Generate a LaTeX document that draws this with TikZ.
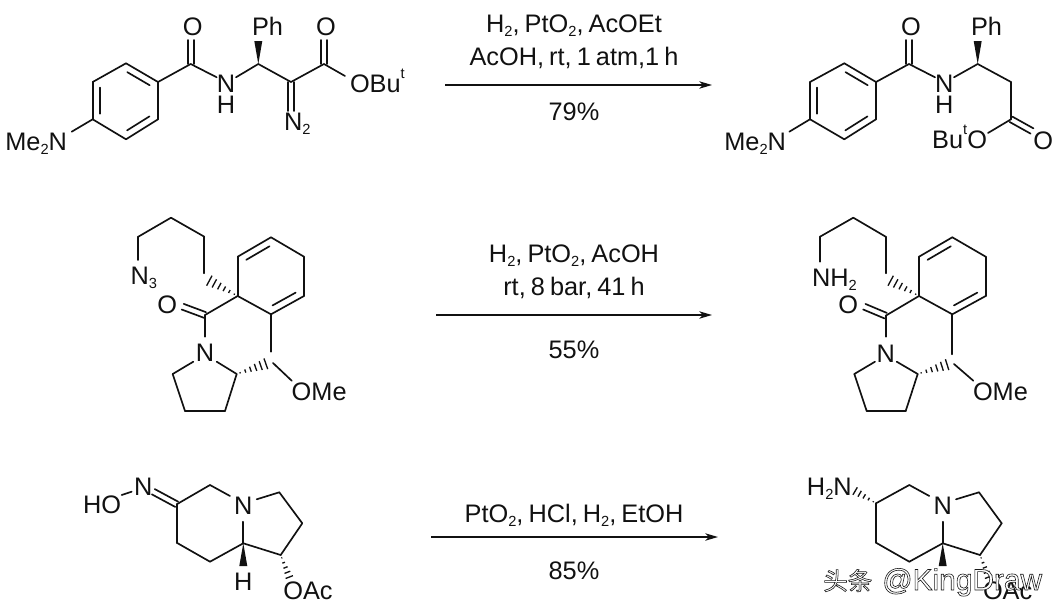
\documentclass[tikz,border=0pt]{standalone}
\usepackage{fontspec}
\setmainfont[WordSpace=0.72]{Liberation Sans}
\newfontfamily\cjk{Noto Sans CJK SC}
\newfontfamily\wmfont{Liberation Sans}
\usetikzlibrary{calc,arrows.meta}
\definecolor{ink}{HTML}{111111}
\newcommand{\lsub}[1]{\raisebox{-3.2pt}{\fontsize{11pt}{11pt}\selectfont #1}}
\newcommand{\lsup}[1]{\raisebox{10.5pt}{\fontsize{11pt}{11pt}\selectfont #1}}
\newcommand{\pnt}[3]{\coordinate (#1) at (#2,#3);}
\newcommand{\bnd}[2]{\draw[bondline] (#1) -- (#2);}
\newcommand{\ib}[2]{\draw[bondline] ($(#1)!.15!(#2)!5.25pt!90:(#2)$) -- ($(#2)!.15!(#1)!5.25pt!-90:(#1)$);}
\newcommand{\db}[2]{\draw[bondline] ($(#1)!2.25pt!90:(#2)$) -- ($(#2)!2.25pt!-90:(#1)$);
  \draw[bondline] ($(#1)!2.25pt!-90:(#2)$) -- ($(#2)!2.25pt!90:(#1)$);}
\newcommand{\wb}[3]{\fill[ink] (#1) -- ($(#2)!#3!90:(#1)$) -- ($(#2)!#3!-90:(#1)$) -- cycle;}
\newcommand{\hb}[4]{\foreach \t in {#4}{%
  \pgfmathsetlengthmacro{\hw}{\t*#3}%
  \draw[hashline] ($(#1)!\t!(#2)!\hw!90:(#2)$) -- ($(#1)!\t!(#2)!\hw!-90:(#2)$);}}
\tikzset{
  bondline/.style={draw=ink,line width=1.25pt,line cap=round,line join=round},
  hashline/.style={draw=ink,line width=1pt},
  lab/.style={inner sep=0pt,outer sep=0pt,text=ink,font=\fontsize{19pt}{20pt}\selectfont},
  rxnarrow/.style={draw=ink,line width=1.1pt,-{Stealth[length=9.5pt,width=5.5pt,inset=2.5pt]}},
}
\begin{document}
\begin{tikzpicture}[x=0.75pt,y=-0.75pt]
\useasboundingbox (0,0) rectangle (1060,614);
% ---------- molecule 1
\pnt{a1}{126}{63.3}\pnt{a2}{158}{82}\pnt{a3}{158}{119.3}\pnt{a4}{126}{139.3}\pnt{a5}{92.7}{119.3}\pnt{a6}{92.7}{82}
\pnt{a7}{71.7}{131.7}\pnt{a8}{190.7}{64}\pnt{a9}{190.7}{40}\pnt{a10}{216.7}{77.3}\pnt{a11}{236}{77.3}
\pnt{a12}{258.3}{64}\pnt{a13}{258.3}{41}\pnt{a14}{291}{82}\pnt{a15}{291}{111}\pnt{a16}{324}{64}\pnt{a17}{324}{40}\pnt{a18}{345}{76}
\bnd{a1}{a2}\bnd{a2}{a3}\bnd{a3}{a4}\bnd{a4}{a5}\bnd{a5}{a6}\bnd{a6}{a1}
\ib{a2}{a1}\ib{a6}{a5}\ib{a4}{a3}
\bnd{a5}{a7}\bnd{a2}{a8}\db{a8}{a9}\bnd{a8}{a10}\bnd{a11}{a12}\bnd{a12}{a14}\bnd{a14}{a16}
\db{a14}{a15}\db{a16}{a17}\bnd{a16}{a18}\wb{a12}{a13}{3pt}
\node[lab,anchor=base east] (an1) at (67,150) {Me\lsub{2}N};
\node[lab,anchor=base] (an2) at (192.7,35) {O};
\node[lab,anchor=base] (an3) at (226,92.5) {N};
\node[lab,anchor=base] (an4) at (226,113.5) {H};
\node[lab,anchor=base west] (an5) at (252,35) {Ph};
\node[lab,anchor=base] (an6) at (326,35) {O};
\node[lab,anchor=base west] (an7) at (350,92) {OBu\lsup{t}};
\node[lab,anchor=base west] (an8) at (284,130.7) {N\lsub{2}};
% ---------- product 1
\pnt{b1}{844.3}{63.3}\pnt{b2}{876}{82}\pnt{b3}{876}{119.3}\pnt{b4}{844.3}{139.3}\pnt{b5}{810}{119.3}\pnt{b6}{810}{82}
\pnt{b7}{789.3}{131.7}\pnt{b8}{909}{64}\pnt{b9}{909}{40}\pnt{b10}{935}{77.3}\pnt{b11}{954}{77.3}
\pnt{b12}{977.7}{64}\pnt{b13}{977.7}{41}\pnt{b14}{1011}{82}\pnt{b15}{1011}{119.3}\pnt{b16}{1032}{131}\pnt{b17}{988}{133}
\bnd{b1}{b2}\bnd{b2}{b3}\bnd{b3}{b4}\bnd{b4}{b5}\bnd{b5}{b6}\bnd{b6}{b1}
\ib{b2}{b1}\ib{b6}{b5}\ib{b4}{b3}
\bnd{b5}{b7}\bnd{b2}{b8}\db{b8}{b9}\bnd{b8}{b10}\bnd{b11}{b12}\bnd{b12}{b14}\bnd{b14}{b15}
\db{b15}{b16}\bnd{b15}{b17}\wb{b12}{b13}{3pt}
\node[lab,anchor=base east] (bn1) at (786,150) {Me\lsub{2}N};
\node[lab,anchor=base] (bn2) at (911,35) {O};
\node[lab,anchor=base] (bn3) at (944.3,92.5) {N};
\node[lab,anchor=base] (bn4) at (944.3,113.5) {H};
\node[lab,anchor=base west] (bn5) at (971,35) {Ph};
\node[lab,anchor=base east] (bn6) at (987,148.5) {Bu\lsup{t}O};
\node[lab,anchor=base] (bn7) at (1043.3,149) {O};
% ---------- molecule 2
\pnt{c1}{138.3}{260}\pnt{c2}{138.3}{236.7}\pnt{c3}{171}{217.7}\pnt{c4}{204.3}{236.7}\pnt{c5}{204.3}{273.3}\pnt{c6}{204.3}{278}
\pnt{c7}{237.7}{296}\pnt{c8}{237.7}{256.7}\pnt{c9}{271}{237.3}\pnt{c10}{304}{256.7}\pnt{c11}{304}{296}\pnt{c12}{271}{314.3}
\pnt{c13}{271}{351.7}\pnt{c14}{271}{362}\pnt{c15}{205}{315}\pnt{c16}{182.7}{306.7}\pnt{c17}{205}{336.7}
\pnt{c18}{216.7}{361.7}\pnt{c19}{236.7}{374}\pnt{c20}{225}{411}\pnt{c21}{185}{411}\pnt{c22}{172.7}{374}\pnt{c23}{193.3}{361.7}
\pnt{c24}{273}{363}\pnt{c25}{291.7}{380.7}
\bnd{c1}{c2}\bnd{c2}{c3}\bnd{c3}{c4}\bnd{c4}{c5}\hb{c7}{c6}{5pt}{.1,.25,.4,.55,.7,.85,1}
\bnd{c7}{c8}\bnd{c8}{c9}\bnd{c9}{c10}\bnd{c10}{c11}\bnd{c11}{c12}\bnd{c12}{c7}\ib{c9}{c8}\ib{c12}{c11}
\bnd{c12}{c13}\bnd{c7}{c15}\db{c15}{c16}\bnd{c15}{c17}
\bnd{c18}{c19}\bnd{c19}{c20}\bnd{c20}{c21}\bnd{c21}{c22}\bnd{c22}{c23}
\hb{c19}{c14}{5pt}{.1,.25,.4,.55,.7,.85,1}\bnd{c24}{c25}
\node[lab,anchor=base west] (cn1) at (130.7,284) {N\lsub{3}};
\node[lab,anchor=base] (cn2) at (167.3,313.3) {O};
\node[lab,anchor=base] (cn3) at (205,361.7) {N};
\node[lab,anchor=base west] (cn4) at (291.7,400) {OMe};
% ---------- product 2
\pnt{d1}{820}{261.7}\pnt{d2}{820}{236.7}\pnt{d3}{853.3}{217.7}\pnt{d4}{885.7}{236.7}\pnt{d5}{885.7}{273.3}\pnt{d6}{885.7}{278}
\pnt{d7}{919}{296}\pnt{d8}{919}{256.7}\pnt{d9}{952.3}{237.3}\pnt{d10}{985.7}{256.7}\pnt{d11}{985.7}{296}\pnt{d12}{952.3}{314.3}
\pnt{d13}{952.3}{354.3}\pnt{d14}{952.3}{363}\pnt{d15}{885.7}{315.7}\pnt{d16}{864.3}{306.7}\pnt{d17}{885.7}{336.7}
\pnt{d18}{896.7}{361.7}\pnt{d19}{917.7}{374}\pnt{d20}{905.7}{411}\pnt{d21}{866.7}{411}\pnt{d22}{854.3}{374}\pnt{d23}{875}{361.7}
\pnt{d24}{954}{364}\pnt{d25}{973.3}{380.7}
\bnd{d1}{d2}\bnd{d2}{d3}\bnd{d3}{d4}\bnd{d4}{d5}\hb{d7}{d6}{5pt}{.1,.25,.4,.55,.7,.85,1}
\bnd{d7}{d8}\bnd{d8}{d9}\bnd{d9}{d10}\bnd{d10}{d11}\bnd{d11}{d12}\bnd{d12}{d7}\ib{d9}{d8}\ib{d12}{d11}
\bnd{d12}{d13}\bnd{d7}{d15}\db{d15}{d16}\bnd{d15}{d17}
\bnd{d18}{d19}\bnd{d19}{d20}\bnd{d20}{d21}\bnd{d21}{d22}\bnd{d22}{d23}
\hb{d19}{d14}{5pt}{.1,.25,.4,.55,.7,.85,1}\bnd{d24}{d25}
\node[lab,anchor=base west] (dn1) at (812,286) {NH\lsub{2}};
\node[lab,anchor=base] (dn2) at (848.3,313.3) {O};
\node[lab,anchor=base] (dn3) at (885.7,362.7) {N};
\node[lab,anchor=base west] (dn4) at (973,400) {OMe};
% ---------- molecule 3
\pnt{e1}{121.7}{495}\pnt{e2}{131.7}{491.7}\pnt{e3}{176.7}{504.3}\pnt{e4}{153.3}{491.7}\pnt{e5}{210}{485}\pnt{e6}{230}{496}
\pnt{e7}{243.3}{521.7}\pnt{e8}{243.3}{543.3}\pnt{e9}{210}{561.7}\pnt{e10}{176.7}{542.7}\pnt{e11}{256.7}{499.3}\pnt{e12}{279.3}{492.3}
\pnt{e13}{302.3}{523.3}\pnt{e14}{280.7}{555}\pnt{e15}{243.3}{566}\pnt{e16}{290}{579}
\bnd{e1}{e2}\db{e3}{e4}\bnd{e3}{e5}\bnd{e5}{e6}\bnd{e7}{e8}\bnd{e8}{e9}\bnd{e9}{e10}\bnd{e10}{e3}
\bnd{e11}{e12}\bnd{e12}{e13}\bnd{e13}{e14}\bnd{e14}{e8}\wb{e8}{e15}{3pt}\hb{e14}{e16}{3.2pt}{.12,.32,.52,.72,.92}
\node[lab,anchor=base west] (en1) at (83,513.3) {HO};
\node[lab,anchor=base] (en2) at (143.3,495) {N};
\node[lab,anchor=base] (en3) at (243.3,514) {N};
\node[lab,anchor=base] (en4) at (243.3,590) {H};
\node[lab,anchor=base west] (en5) at (283.3,599.3) {OAc};
% ---------- product 3
\pnt{f1}{876}{503.3}\pnt{f2}{853.3}{490}\pnt{f3}{909.3}{485}\pnt{f4}{929.3}{496}\pnt{f5}{942.7}{521.7}\pnt{f6}{942.7}{543.3}
\pnt{f7}{909.3}{561.7}\pnt{f8}{876}{542.7}\pnt{f9}{956}{499.3}\pnt{f10}{979}{492.3}\pnt{f11}{1001.7}{523.3}\pnt{f12}{980}{555}
\pnt{f13}{942.7}{566}\pnt{f14}{989.3}{579}
\hb{f1}{f2}{3.5pt}{.12,.32,.52,.72,.92}\bnd{f1}{f3}\bnd{f3}{f4}\bnd{f5}{f6}\bnd{f6}{f7}\bnd{f7}{f8}\bnd{f8}{f1}
\bnd{f9}{f10}\bnd{f10}{f11}\bnd{f11}{f12}\bnd{f12}{f6}\wb{f6}{f13}{3pt}\hb{f12}{f14}{3.2pt}{.12,.32,.52,.72,.92}
\node[lab,anchor=base east] (fn1) at (851.7,495) {H\lsub{2}N};
\node[lab,anchor=base] (fn2) at (942.7,514) {N};
\node[lab,anchor=base west] (fn3) at (983,599.3) {OAc};
% ---------- reactions
\pnt{r1s}{445}{85}\pnt{r1e}{712}{85}
\draw[rxnarrow] (r1s) -- (r1e);
\node[lab,anchor=base] (r1a) at (574,32.7) {H\lsub{2}, PtO\lsub{2}, AcOEt};
\node[lab,anchor=base] (r1b) at (574,65) {AcOH, rt, 1 atm,1 h};
\node[lab,anchor=base] (r1c) at (574,120.7) {79\%};
\pnt{r2s}{436}{315}\pnt{r2e}{712}{315}
\draw[rxnarrow] (r2s) -- (r2e);
\node[lab,anchor=base] (r2a) at (574,262.7) {H\lsub{2}, PtO\lsub{2}, AcOH};
\node[lab,anchor=base] (r2b) at (574,295) {rt, 8 bar, 41 h};
\node[lab,anchor=base] (r2c) at (574,358.3) {55\%};
\pnt{r3s}{431}{537}\pnt{r3e}{718}{537}
\draw[rxnarrow] (r3s) -- (r3e);
\node[lab,anchor=base] (r3a) at (574,522.7) {PtO\lsub{2}, HCl, H\lsub{2}, EtOH};
\node[lab,anchor=base] (r3c) at (574,579.3) {85\%};
% ---------- watermark
\node[inner sep=0pt,anchor=base west] (wm) at (823,590) {\color{white}\special{pdf:code 2 Tr 0.45 w 0.1 G}{\cjk\fontsize{18.4pt}{20pt}\selectfont 头条}\hspace{7.5pt}{\wmfont\fontsize{22.4pt}{24pt}\selectfont @KingDraw}\special{pdf:code 0 Tr}};
\end{tikzpicture}
\end{document}
